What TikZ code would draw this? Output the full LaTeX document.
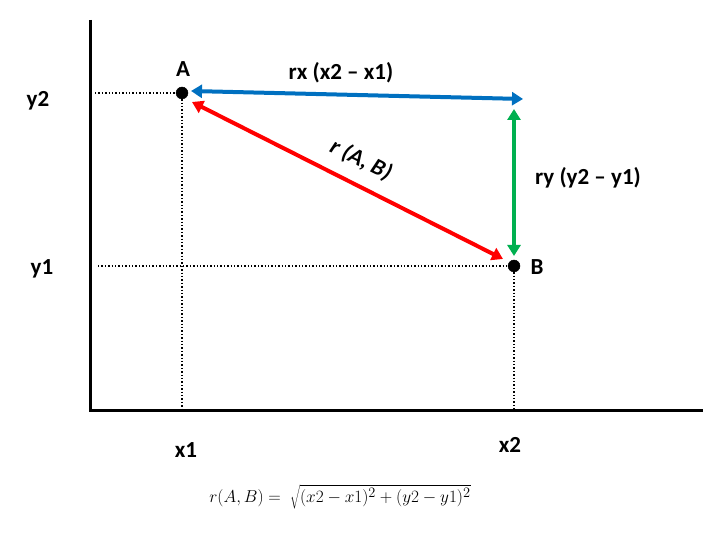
\documentclass[tikz,border=0pt]{standalone}
\usepackage{fontspec}
\setmainfont{Carlito}
\usetikzlibrary{arrows.meta, positioning}
\definecolor{rxblue}{RGB}{0,112,192}
\definecolor{rygreen}{RGB}{0,176,80}
\definecolor{rred}{RGB}{255,0,0}

\begin{document}
\begin{tikzpicture}[x=1pt, y=1pt, line cap=butt]
    % Define styles
    \tikzstyle{axis} = [line width=3pt, black]
    \tikzstyle{guide} = [line width=1.4pt, dotted, black]
    \tikzstyle{point} = [draw, circle, fill=black, inner sep=0pt, minimum size=12pt]
    \tikzstyle{lbl} = [font=\fontsize{23}{27}\selectfont\bfseries]
    \tikzstyle{dist} = [{Triangle[length=11pt,width=13pt]}-{Triangle[length=11pt,width=13pt]}, line width=4pt]
    \useasboundingbox (0,0) rectangle (720,534);

    % AXES
    \coordinate (origin) at (90,123);
    \coordinate (y_top) at (90,514);
    \coordinate (x_end) at (703,123);
    \draw[axis] (y_top) -- (origin) -- (x_end);

    % POINTS
    \node (A) [point] at (182,441) {};
    \node (B) [point] at (514,268) {};
    \node (A_lbl) [lbl] at (183,465) {A};
    \node (B_lbl) [lbl] at (537,267) {B};

    % Guide lines
    \coordinate (y2_start) at (95,441);
    \coordinate (y1_start) at (98,268);
    \coordinate (x1_end) at (182,123);
    \coordinate (x2_end) at (514,123);
    \draw[guide] (y2_start) -- (A);
    \draw[guide] (A) -- (x1_end);
    \draw[guide] (y1_start) -- (B);
    \draw[guide] (B) -- (x2_end);

    % Axis labels
    \node (y2_lbl) [lbl] at (38,433) {y2};
    \node (y1_lbl) [lbl] at (42,265) {y1};
    \node (x1_lbl) [lbl] at (186,84) {x1};
    \node (x2_lbl) [lbl] at (510,89) {x2};

    % DISTANCES
    \coordinate (rx_start) at (191,443);
    \coordinate (rx_end) at (523,435);
    \coordinate (ry_top) at (514,425);
    \coordinate (ry_bottom) at (514,278);
    \coordinate (r_start) at (192,432);
    \coordinate (r_end) at (503,275);
    \draw[dist, rxblue] (rx_start) -- (rx_end);
    \draw[dist, rygreen] (ry_top) -- (ry_bottom);
    \draw[dist, rred] (r_start) -- (r_end);

    \node (rx_lbl) [lbl] at (341,461) {rx (x2 -- x1)};
    \node (ry_lbl) [lbl] at (588,356) {ry (y2 -- y1)};
    \node (r_lbl) [lbl, font=\fontsize{23}{27}\selectfont\bfseries\itshape, rotate=-26.6] at (361,374) {r (A, B)};

    % Formula
    \node (formula) [font=\fontsize{19}{23}\selectfont] at (340,37) {$r(A,B) =\ \sqrt{(x2-x1)^2+(y2-y1)^2}$};
\end{tikzpicture}
\end{document}
